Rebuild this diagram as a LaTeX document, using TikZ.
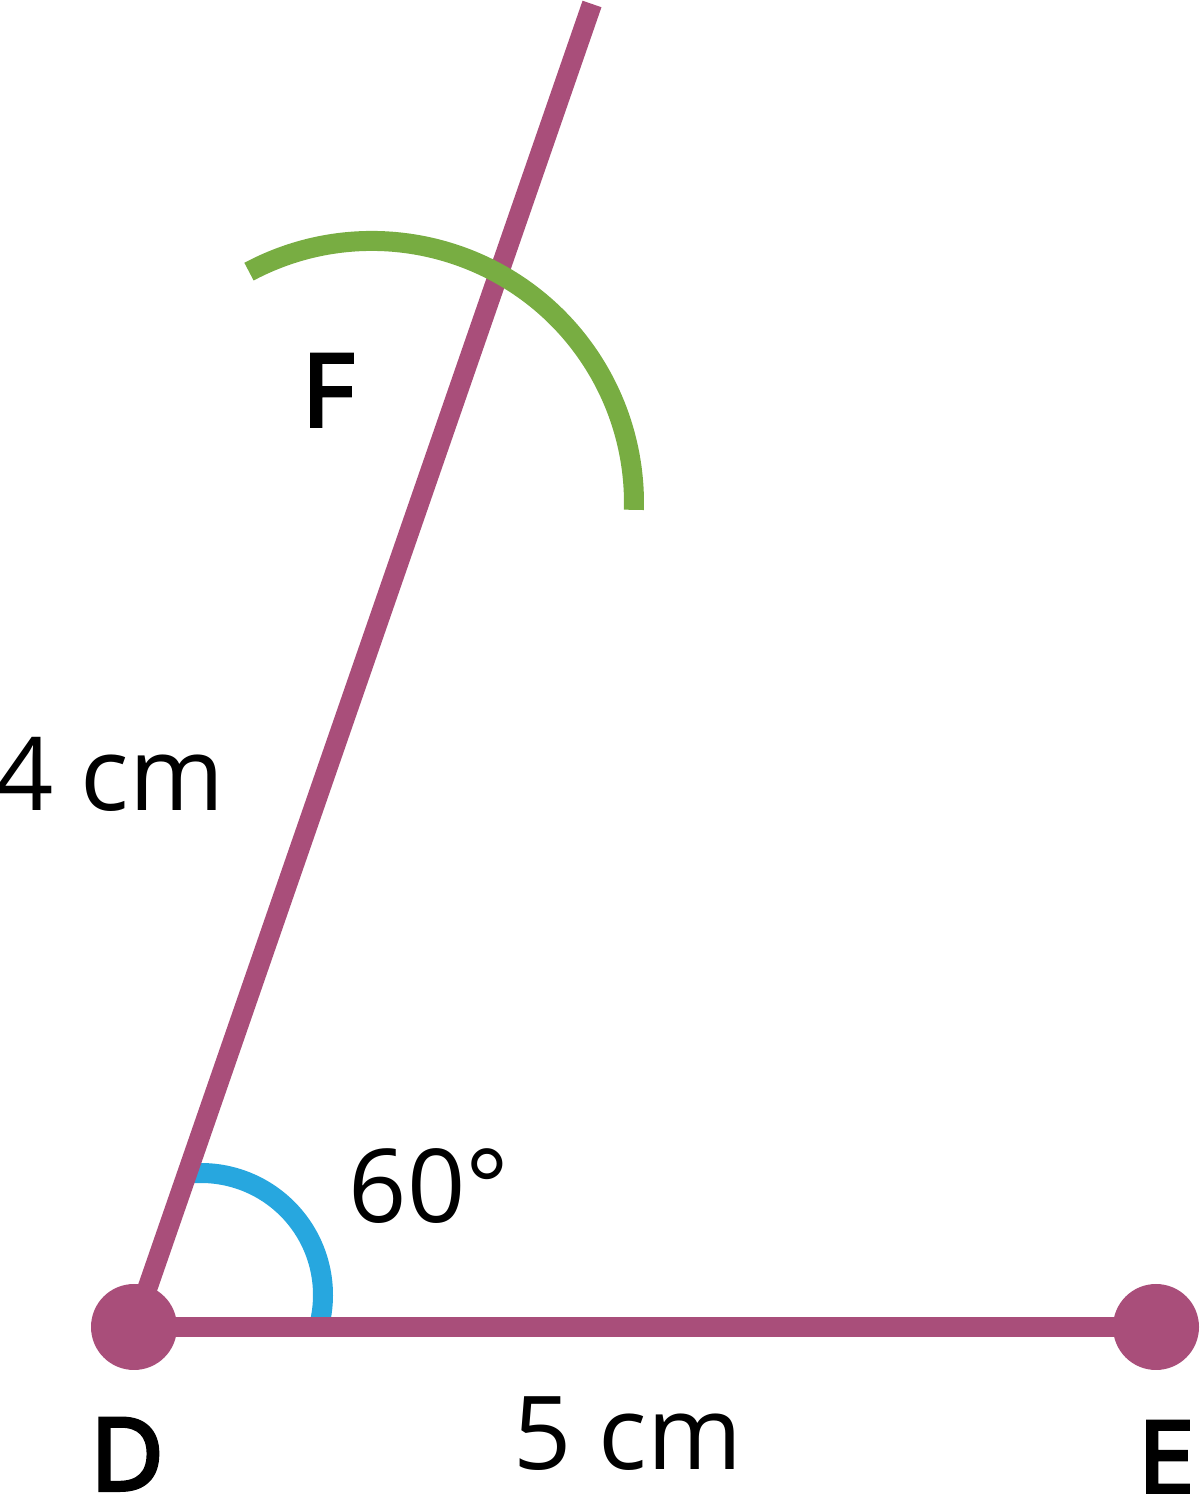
\documentclass[tikz,border=0pt]{standalone}
\usepackage{fontspec}
\setmainfont{Open Sans}
\newfontfamily\semibold{Open Sans}[FakeBold=4]
\definecolor{seg}{HTML}{A94E7A}
\definecolor{arcg}{HTML}{78AD42}
\definecolor{arcb}{HTML}{27A7DF}
\begin{document}
\begin{tikzpicture}[x=1pt,y=1pt,
  segline/.style={draw=seg,line width=20pt},
  dotnode/.style={circle,fill=seg,minimum size=86pt,inner sep=0pt},
  lbl/.style={anchor=base,inner sep=0pt,font=\fontsize{102}{120}\selectfont},
  blbl/.style={lbl,font=\fontsize{100}{120}\selectfont\semibold}]
\useasboundingbox (0,0) rectangle (1200,1494);
\coordinate (D) at (134,167);
\coordinate (E) at (1156,167);
\coordinate (T) at (592,1490);
% angle mark
\draw[arcb,line width=20pt] (201,199) ++(95:122) arc[start angle=95,end angle=-12,radius=122];
% segments
\draw[segline] (D) -- (T);
\draw[segline] (D) -- (E);
\node[dotnode] (dotD) at (D) {};
\node[dotnode] (dotE) at (E) {};
% compass arc
\draw[arcg,line width=20pt] (372,991) ++(118:262) arc[start angle=118,end angle=-1.5,radius=262];
% labels
\node[blbl] (lF) at (328,1068) {F};
\node[lbl] (l4) at (110,683) {4 cm};
\node[lbl] (l60) at (429,271) {60°};
\node[lbl] (l5) at (628,24) {5 cm};
\node[blbl] (lD) at (127,4) {D};
\node[blbl] (lE) at (1166,1) {E};
\end{tikzpicture}
\end{document}
